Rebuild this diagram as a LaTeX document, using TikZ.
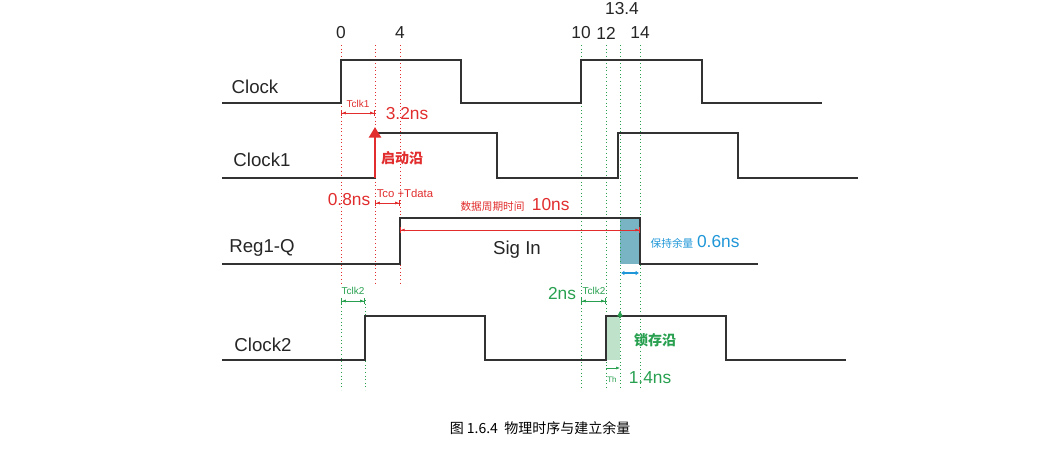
\documentclass[tikz,border=0pt]{standalone}
\usepackage{fontspec}
\setmainfont{Liberation Sans}
\newfontfamily\cjk{Noto Sans CJK SC}
\usetikzlibrary{arrows.meta}
\definecolor{rd}{RGB}{225,45,45}
\definecolor{gn}{RGB}{40,160,80}
\definecolor{bl}{RGB}{30,150,215}
\definecolor{wv}{RGB}{50,50,50}
\definecolor{teal}{RGB}{120,180,195}
\begin{document}
\begin{tikzpicture}[x=0.75pt,y=-0.75pt,
  wave/.style={draw=wv,line width=1.1pt},
  rguide/.style={draw=rd,dotted,line width=0.7pt},
  gguide/.style={draw=gn,dotted,line width=0.7pt},
  sig/.style={font=\fontsize{14}{14}\selectfont,text=black!85},
  tick/.style={font=\fontsize{13}{13}\selectfont,text=black!85},
  small/.style={font=\fontsize{7.5}{7.5}\selectfont},
  meas/.style={{Bar[width=4pt]Latex[length=3pt]}-{Latex[length=3pt]Bar[width=4pt]},line width=0.6pt}]
\useasboundingbox (0,0) rectangle (1058,449);
% shaded areas
\fill[teal] (620,218) rectangle (640,264);
\fill[gn!30!white] (606,316) rectangle (620,360);
% guides
\foreach \x in {341,375,400} \draw[rguide] (\x,45) -- (\x,285);
\foreach \x in {581,606,620,640} \draw[gguide] (\x,45) -- (\x,390);
\foreach \x in {341,365} \draw[gguide] (\x,300) -- (\x,390);
% ticks
\node[tick] (t0) at (341,33) {0};
\node[tick] (t4) at (400,33) {4};
\node[tick] (t10) at (581,33) {10};
\node[tick] (t12) at (606,33) {12};
\node[tick] (t14) at (640,33) {14};
\node[tick] (t134) at (622,9) {13.4};
% waves
\draw[wave] (222,103) -- (341,103) -- (341,60) -- (461,60) -- (461,103) -- (581,103) -- (581,60) -- (702,60) -- (702,103) -- (822,103);
\draw[wave] (222,178) -- (375,178) -- (375,133) -- (497,133) -- (497,178) -- (618,178) -- (618,133) -- (738,133) -- (738,178) -- (858,178);
\draw[wave] (222,264) -- (400,264) -- (400,218) -- (640,218) -- (640,264) -- (758,264);
\draw[wave] (222,360) -- (365,360) -- (365,316) -- (485,316) -- (485,360) -- (606,360) -- (606,316) -- (726,316) -- (726,360) -- (846,360);
% signal names
\node[sig] (clk) at (255,87) {Clock};
\node[sig] (clk1) at (262,160) {Clock1};
\node[sig] (reg) at (262,248) {Reg1-Q};
\node[sig] (clk2) at (263,345) {Clock2};
\node[sig] (sigin) at (517,250) {Sig In};
% Tclk1
\coordinate (a1) at (341,113); \coordinate (a2) at (375,113);
\draw[meas,rd] (a1) -- (a2);
\node[small,text=rd] (tclk1) at (358,104) {Tclk1};
\node[tick,text=rd] (n32) at (407,114) {3.2ns};
\coordinate (ls) at (375,178); \coordinate (le) at (375,127);
\draw[rd,line width=2.2pt,-{Triangle[length=8pt,width=9pt]}] (ls) -- (le);
\node[text=rd,font=\cjk\bfseries\fontsize{10.5}{10.5}\selectfont] (qd) at (402,158) {启动沿};
\node[tick,text=rd] (n08) at (349,200) {0.8ns};
\node[small,text=rd,font=\fontsize{8.5}{8.5}\selectfont] (tco) at (405,193) {Tco +Tdata};
\coordinate (b1) at (375,203); \coordinate (b2) at (400,203);
\draw[meas,rd] (b1) -- (b2);
\node[text=rd] (dp) at (515,205) {{\cjk\fontsize{8}{8}\selectfont 数据周期时间}\ \ {\fontsize{13}{13}\selectfont 10ns}};
\coordinate (c1) at (400,230); \coordinate (c2) at (640,230);
\draw[rd,line width=0.5pt,{Bar[width=4pt]Latex[length=3pt]}-{Latex[length=3pt]Bar[width=4pt]}] (c1) -- (c2);
% hold
\node[text=bl,anchor=west] (hold) at (646,242) {{\cjk\fontsize{8}{8}\selectfont 保持余量}\ {\fontsize{13}{13}\selectfont 0.6ns}};
\coordinate (d1) at (621,273); \coordinate (d2) at (639,273);
\draw[bl,line width=0.9pt,{Latex[length=2.5pt,width=3.5pt]}-{Latex[length=2.5pt,width=3.5pt]}] (d1) -- (d2);
% Tclk2
\coordinate (e1) at (341,301); \coordinate (e2) at (365,301);
\draw[meas,gn] (e1) -- (e2);
\node[small,text=gn] (tclk2a) at (353,291) {Tclk2};
\coordinate (f1) at (581,301); \coordinate (f2) at (606,301);
\draw[meas,gn] (f1) -- (f2);
\node[small,text=gn] (tclk2b) at (594,291) {Tclk2};
\node[tick,text=gn] (n2) at (562,294) {2ns};
\coordinate (g1) at (620,318); \coordinate (g2) at (620,311);
\draw[gn,line width=1pt,-{Triangle[length=4pt,width=4pt]}] (g1) -- (g2);
\node[text=gn,font=\cjk\bfseries\fontsize{10.5}{10.5}\selectfont] (sc) at (655,340) {锁存沿};
\coordinate (h1) at (606,368); \coordinate (h2) at (620,368);
\draw[gn,line width=0.5pt,-{Latex[length=3pt]}] (h1) -- (h2);
\node[small,text=gn,font=\fontsize{6}{6}\selectfont] (th) at (612,380) {Th};
\node[tick,text=gn] (n14) at (650,378) {1.4ns};
% caption
\node[font=\cjk\fontsize{10.5}{10.5}\selectfont] (cap) at (540,428) {图 1.6.4\ \ 物理时序与建立余量};
\end{tikzpicture}
\end{document}
